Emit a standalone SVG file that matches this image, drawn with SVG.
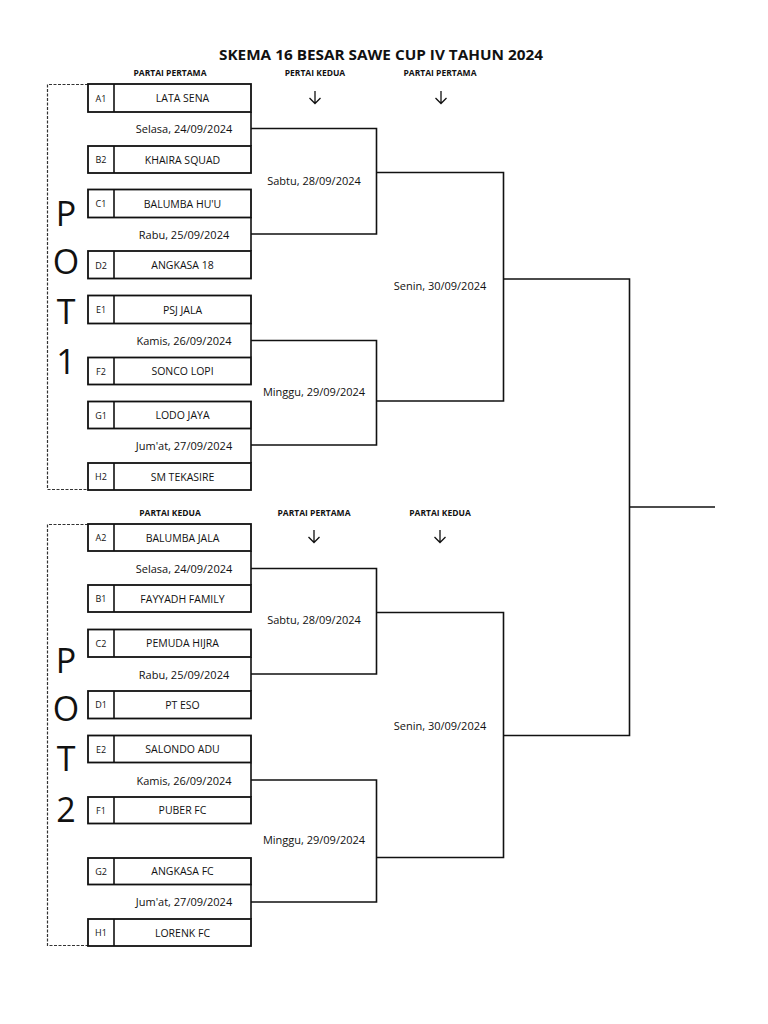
<svg xmlns="http://www.w3.org/2000/svg" width="768" height="1024" viewBox="0 0 768 1024">
<style>
text{font-family:"Open Sans","Noto Sans","Liberation Sans",sans-serif;fill:#111}
.title{font-size:14.5px;font-weight:bold;text-anchor:middle}
.hdr{font-size:8.5px;font-weight:bold;text-anchor:middle}
.team{font-size:10.5px;text-anchor:middle}
.code{font-size:9px;text-anchor:middle}
.date{font-size:11px;text-anchor:middle}
.pot{font-size:34px;text-anchor:middle}
.box{fill:#fff;stroke:#111;stroke-width:1.8}
.cl{fill:none;stroke:#111;stroke-width:1.6}
.dash{fill:none;stroke:#333;stroke-width:1.2;stroke-dasharray:3 1.5}
.arr{fill:none;stroke:#111;stroke-width:1.3}
</style>
<rect width="768" height="1024" fill="#fff"/>
<text class="title" x="381" y="60" textLength="324" lengthAdjust="spacingAndGlyphs">SKEMA 16 BESAR SAWE CUP IV TAHUN 2024</text>

<g id="headers">
<text class="hdr" x="170" y="76">PARTAI PERTAMA</text>
<text class="hdr" x="315" y="76">PERTAI KEDUA</text>
<text class="hdr" x="440" y="76">PARTAI PERTAMA</text>
<path class="arr" d="M315,91V103.5M309.5,98L315,103.5L320.5,98"/>
<path class="arr" d="M441,91V103.5M435.5,98L441,103.5L446.5,98"/>
<text class="hdr" x="170" y="516">PARTAI KEDUA</text>
<text class="hdr" x="314" y="516">PARTAI PERTAMA</text>
<text class="hdr" x="440" y="516">PARTAI KEDUA</text>
<path class="arr" d="M314,530V542.5M308.5,537L314,542.5L319.5,537"/>
<path class="arr" d="M440,530V542.5M434.5,537L440,542.5L445.5,537"/>
</g>

<g id="pot1">
<path class="dash" d="M88,84.5H47.5V489.5H88"/>
<text class="pot" x="66" y="226">P</text>
<text class="pot" x="66" y="274">O</text>
<text class="pot" x="66" y="324">T</text>
<text class="pot" x="66" y="374">1</text>
</g>
<g id="pot2">
<path class="dash" d="M88,524.5H47.5V945.5H88"/>
<text class="pot" x="66" y="673">P</text>
<text class="pot" x="66" y="721">O</text>
<text class="pot" x="66" y="771">T</text>
<text class="pot" x="66" y="822">2</text>
</g>

<g id="connectors">
<path class="cl" d="M251,112V146M251,217V251M251,323V357M251,429V463"/>
<path class="cl" d="M251,551V585M251,657V691M251,763V797M251,884V919"/>
<path class="cl" d="M251,128.5H376.5V234H251"/>
<path class="cl" d="M251,340.5H376.5V445H251"/>
<path class="cl" d="M251,568.5H376.5V674H251"/>
<path class="cl" d="M251,780H376.5V902H251"/>
<path class="cl" d="M376.5,172.5H503.5V401H376.5"/>
<path class="cl" d="M376.5,612.5H503.5V857.5H376.5"/>
<path class="cl" d="M503.5,279H629.5V735.5H503.5"/>
<path class="cl" d="M629.5,507H715"/>
</g>

<g id="dates">
<text class="date" x="184" y="133">Selasa, 24/09/2024</text>
<text class="date" x="184" y="238.5">Rabu, 25/09/2024</text>
<text class="date" x="184" y="344.5">Kamis, 26/09/2024</text>
<text class="date" x="184" y="449.5">Jum'at, 27/09/2024</text>
<text class="date" x="184" y="573">Selasa, 24/09/2024</text>
<text class="date" x="184" y="678.5">Rabu, 25/09/2024</text>
<text class="date" x="184" y="784.5">Kamis, 26/09/2024</text>
<text class="date" x="184" y="906">Jum'at, 27/09/2024</text>
<text class="date" x="314" y="184.5">Sabtu, 28/09/2024</text>
<text class="date" x="314" y="396">Minggu, 29/09/2024</text>
<text class="date" x="314" y="624">Sabtu, 28/09/2024</text>
<text class="date" x="314" y="844">Minggu, 29/09/2024</text>
<text class="date" x="440" y="290">Senin, 30/09/2024</text>
<text class="date" x="440" y="730">Senin, 30/09/2024</text>
</g>

<g id="A1"><rect class="box" x="88" y="84" width="163" height="28"/><path class="cl" d="M114,84V112"/><text class="code" x="101" y="101.5">A1</text><text class="team" x="182.5" y="102">LATA SENA</text></g>
<g id="B2"><rect class="box" x="88" y="146" width="163" height="27"/><path class="cl" d="M114,146V173"/><text class="code" x="101" y="163">B2</text><text class="team" x="182.5" y="163.5">KHAIRA SQUAD</text></g>
<g id="C1"><rect class="box" x="88" y="189.5" width="163" height="28"/><path class="cl" d="M114,189.5V217.5"/><text class="code" x="101" y="207">C1</text><text class="team" x="182.5" y="207.5">BALUMBA HU'U</text></g>
<g id="D2"><rect class="box" x="88" y="251" width="163" height="27.5"/><path class="cl" d="M114,251V278.5"/><text class="code" x="101" y="268.5">D2</text><text class="team" x="182.5" y="269">ANGKASA 18</text></g>
<g id="E1"><rect class="box" x="88" y="295.5" width="163" height="28"/><path class="cl" d="M114,295.5V323.5"/><text class="code" x="101" y="313">E1</text><text class="team" x="182.5" y="313.5">PSJ JALA</text></g>
<g id="F2"><rect class="box" x="88" y="357.5" width="163" height="27"/><path class="cl" d="M114,357.5V384.5"/><text class="code" x="101" y="374.5">F2</text><text class="team" x="182.5" y="375">SONCO LOPI</text></g>
<g id="G1"><rect class="box" x="88" y="401.5" width="163" height="27"/><path class="cl" d="M114,401.5V428.5"/><text class="code" x="101" y="418.5">G1</text><text class="team" x="182.5" y="419">LODO JAYA</text></g>
<g id="H2"><rect class="box" x="88" y="463" width="163" height="27"/><path class="cl" d="M114,463V490"/><text class="code" x="101" y="480">H2</text><text class="team" x="182.5" y="480.5">SM TEKASIRE</text></g>

<g id="A2"><rect class="box" x="88" y="524" width="163" height="27"/><path class="cl" d="M114,524V551"/><text class="code" x="101" y="541">A2</text><text class="team" x="182.5" y="541.5">BALUMBA JALA</text></g>
<g id="B1"><rect class="box" x="88" y="585" width="163" height="27"/><path class="cl" d="M114,585V612"/><text class="code" x="101" y="602">B1</text><text class="team" x="182.5" y="602.5">FAYYADH FAMILY</text></g>
<g id="C2"><rect class="box" x="88" y="629.5" width="163" height="27.5"/><path class="cl" d="M114,629.5V657"/><text class="code" x="101" y="646.5">C2</text><text class="team" x="182.5" y="647">PEMUDA HIJRA</text></g>
<g id="D1"><rect class="box" x="88" y="691" width="163" height="27.5"/><path class="cl" d="M114,691V718.5"/><text class="code" x="101" y="708">D1</text><text class="team" x="182.5" y="708.5">PT ESO</text></g>
<g id="E2"><rect class="box" x="88" y="735.5" width="163" height="27"/><path class="cl" d="M114,735.5V762.5"/><text class="code" x="101" y="752.5">E2</text><text class="team" x="182.5" y="753">SALONDO ADU</text></g>
<g id="F1"><rect class="box" x="88" y="797" width="163" height="26.5"/><path class="cl" d="M114,797V823.5"/><text class="code" x="101" y="813.5">F1</text><text class="team" x="182.5" y="814">PUBER FC</text></g>
<g id="G2"><rect class="box" x="88" y="858" width="163" height="26.5"/><path class="cl" d="M114,858V884.5"/><text class="code" x="101" y="874.5">G2</text><text class="team" x="182.5" y="875">ANGKASA FC</text></g>
<g id="H1"><rect class="box" x="88" y="919" width="163" height="27"/><path class="cl" d="M114,919V946"/><text class="code" x="101" y="936">H1</text><text class="team" x="182.5" y="936.5">LORENK FC</text></g>
</svg>
